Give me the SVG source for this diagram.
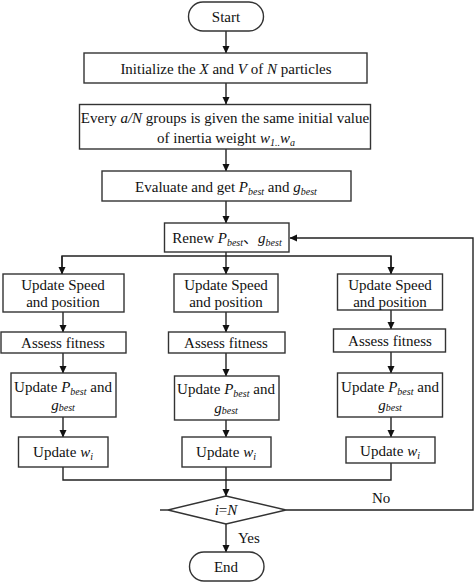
<svg xmlns="http://www.w3.org/2000/svg" width="474" height="582" viewBox="0 0 474 582" font-family="Liberation Serif, DejaVu Serif, serif">
<style>
rect, .term, .dia { fill: #ffffff; stroke: #333333; stroke-width: 1.4; }
text { font-family: "Liberation Serif", "DejaVu Serif", "Noto Sans CJK SC", serif; font-size: 15px; fill: #111111; text-anchor: middle; }
.it { font-style: italic; }
.sub { font-style: italic; font-size: 10px; }
.ln { fill: none; stroke: #222222; stroke-width: 1.4; }
.lab { text-anchor: start; }
</style>
<defs>
<marker id="arr" markerWidth="8" markerHeight="8" refX="7" refY="4" orient="auto" markerUnits="userSpaceOnUse">
<path d="M0,0.5 L7.5,4 L0,7.5 Z" fill="#111111"/>
</marker>
</defs>
<rect width="474" height="582" style="fill:#ffffff;stroke:none"/>

<g id="connectors">
<line class="ln" x1="226" y1="31" x2="226" y2="53" marker-end="url(#arr)"/>
<line class="ln" x1="226" y1="83" x2="226" y2="104" marker-end="url(#arr)"/>
<line class="ln" x1="226" y1="149" x2="226" y2="171" marker-end="url(#arr)"/>
<line class="ln" x1="226" y1="201" x2="226" y2="223" marker-end="url(#arr)"/>
<polyline class="ln" points="62,274 62,256 391,256 391,274"/>
<line class="ln" x1="62" y1="256" x2="62" y2="274" marker-end="url(#arr)"/>
<line class="ln" x1="226" y1="252" x2="226" y2="274" marker-end="url(#arr)"/>
<line class="ln" x1="391" y1="256" x2="391" y2="274" marker-end="url(#arr)"/>
<line class="ln" x1="63" y1="312" x2="63" y2="332" marker-end="url(#arr)"/>
<line class="ln" x1="226" y1="312" x2="226" y2="332" marker-end="url(#arr)"/>
<line class="ln" x1="391" y1="310" x2="391" y2="329" marker-end="url(#arr)"/>
<line class="ln" x1="63" y1="353" x2="63" y2="373" marker-end="url(#arr)"/>
<line class="ln" x1="226" y1="353" x2="226" y2="376" marker-end="url(#arr)"/>
<line class="ln" x1="391" y1="352" x2="391" y2="373" marker-end="url(#arr)"/>
<line class="ln" x1="63" y1="417" x2="63" y2="437" marker-end="url(#arr)"/>
<line class="ln" x1="226" y1="420" x2="226" y2="437" marker-end="url(#arr)"/>
<line class="ln" x1="391" y1="417" x2="391" y2="437" marker-end="url(#arr)"/>
<polyline class="ln" points="63,467 63,480 391,480 391,463"/>
<line class="ln" x1="226" y1="467" x2="226" y2="496" marker-end="url(#arr)"/>
<line class="ln" x1="160" y1="510" x2="168" y2="510"/>
<polyline class="ln" points="286,510 473,510 473,238 290,238" marker-end="url(#arr)"/>
<line class="ln" x1="226" y1="524" x2="226" y2="552" marker-end="url(#arr)"/>
<text class="lab" x="372" y="503">No</text>
<text class="lab" x="238" y="543">Yes</text>
</g>

<g id="start">
<rect x="188.5" y="2" width="75" height="29" rx="14.5" ry="14.5"/>
<text x="226" y="22">Start</text>
</g>

<g id="init">
<rect x="84" y="53" width="283" height="30"/>
<text x="226" y="74">Initialize the <tspan class="it">X</tspan> and <tspan class="it">V</tspan> of <tspan class="it">N</tspan> particles</text>
</g>

<g id="every">
<rect x="79.5" y="104.5" width="291" height="44.5"/>
<text x="225" y="123">Every <tspan class="it">a/N</tspan> groups is given the same initial value</text>
<text x="226" y="143">of inertia weight <tspan class="it">w</tspan><tspan class="sub" dy="3">1..</tspan><tspan class="it" dy="-3">w</tspan><tspan class="sub" dy="3">a</tspan></text>
</g>

<g id="evaluate">
<rect x="102" y="171" width="249" height="30"/>
<text x="226" y="192">Evaluate and get <tspan class="it">P</tspan><tspan class="sub" dy="3">best</tspan><tspan dy="-3"> and </tspan><tspan class="it">g</tspan><tspan class="sub" dy="3">best</tspan></text>
</g>

<g id="renew">
<rect x="164.5" y="223" width="124.5" height="29"/>
<text x="227" y="243">Renew <tspan class="it">P</tspan><tspan class="sub" dy="3">best</tspan><tspan dy="-3">、</tspan><tspan class="it">g</tspan><tspan class="sub" dy="3">best</tspan></text>
</g>

<g id="speed1">
<rect x="3" y="274" width="121" height="38"/>
<text x="63" y="290">Update Speed</text>
<text x="63" y="307">and position</text>
</g>
<g id="speed2">
<rect x="174" y="274" width="104" height="38"/>
<text x="226" y="290">Update Speed</text>
<text x="226" y="307">and position</text>
</g>
<g id="speed3">
<rect x="337.5" y="274" width="105" height="36"/>
<text x="390" y="290">Update Speed</text>
<text x="390" y="307">and position</text>
</g>

<g id="assess1">
<rect x="1" y="332" width="125" height="21"/>
<text x="63" y="348">Assess fitness</text>
</g>
<g id="assess2">
<rect x="168.5" y="332" width="116.5" height="21"/>
<text x="226" y="348">Assess fitness</text>
</g>
<g id="assess3">
<rect x="333.5" y="329" width="112" height="23"/>
<text x="390" y="346">Assess fitness</text>
</g>

<g id="pbest1">
<rect x="11" y="373" width="105" height="44"/>
<text x="63" y="392">Update <tspan class="it">P</tspan><tspan class="sub" dy="3">best</tspan><tspan dy="-3"> and</tspan></text>
<text x="63" y="410"><tspan class="it">g</tspan><tspan class="sub" dy="1">best</tspan></text>
</g>
<g id="pbest2">
<rect x="174.5" y="376" width="104.5" height="44"/>
<text x="226" y="394">Update <tspan class="it">P</tspan><tspan class="sub" dy="3">best</tspan><tspan dy="-3"> and</tspan></text>
<text x="226" y="413"><tspan class="it">g</tspan><tspan class="sub" dy="1">best</tspan></text>
</g>
<g id="pbest3">
<rect x="337.5" y="373" width="105" height="44"/>
<text x="390" y="392">Update <tspan class="it">P</tspan><tspan class="sub" dy="3">best</tspan><tspan dy="-3"> and</tspan></text>
<text x="390" y="410"><tspan class="it">g</tspan><tspan class="sub" dy="1">best</tspan></text>
</g>

<g id="w1">
<rect x="18.5" y="437" width="89.5" height="30"/>
<text x="63" y="457">Update <tspan class="it">w</tspan><tspan class="sub" dy="3">i</tspan></text>
</g>
<g id="w2">
<rect x="182" y="437" width="89" height="30"/>
<text x="226" y="457">Update <tspan class="it">w</tspan><tspan class="sub" dy="3">i</tspan></text>
</g>
<g id="w3">
<rect x="346" y="437" width="89" height="26"/>
<text x="390" y="456">Update <tspan class="it">w</tspan><tspan class="sub" dy="3">i</tspan></text>
</g>

<g id="decision">
<polygon class="dia" points="168,510 226,496 286,510 226,524"/>
<text x="226" y="515"><tspan class="it">i</tspan>=<tspan class="it">N</tspan></text>
</g>

<g id="end">
<rect x="189.5" y="552" width="74.5" height="29" rx="14.5" ry="14.5"/>
<text x="226" y="572">End</text>
</g>
</svg>
